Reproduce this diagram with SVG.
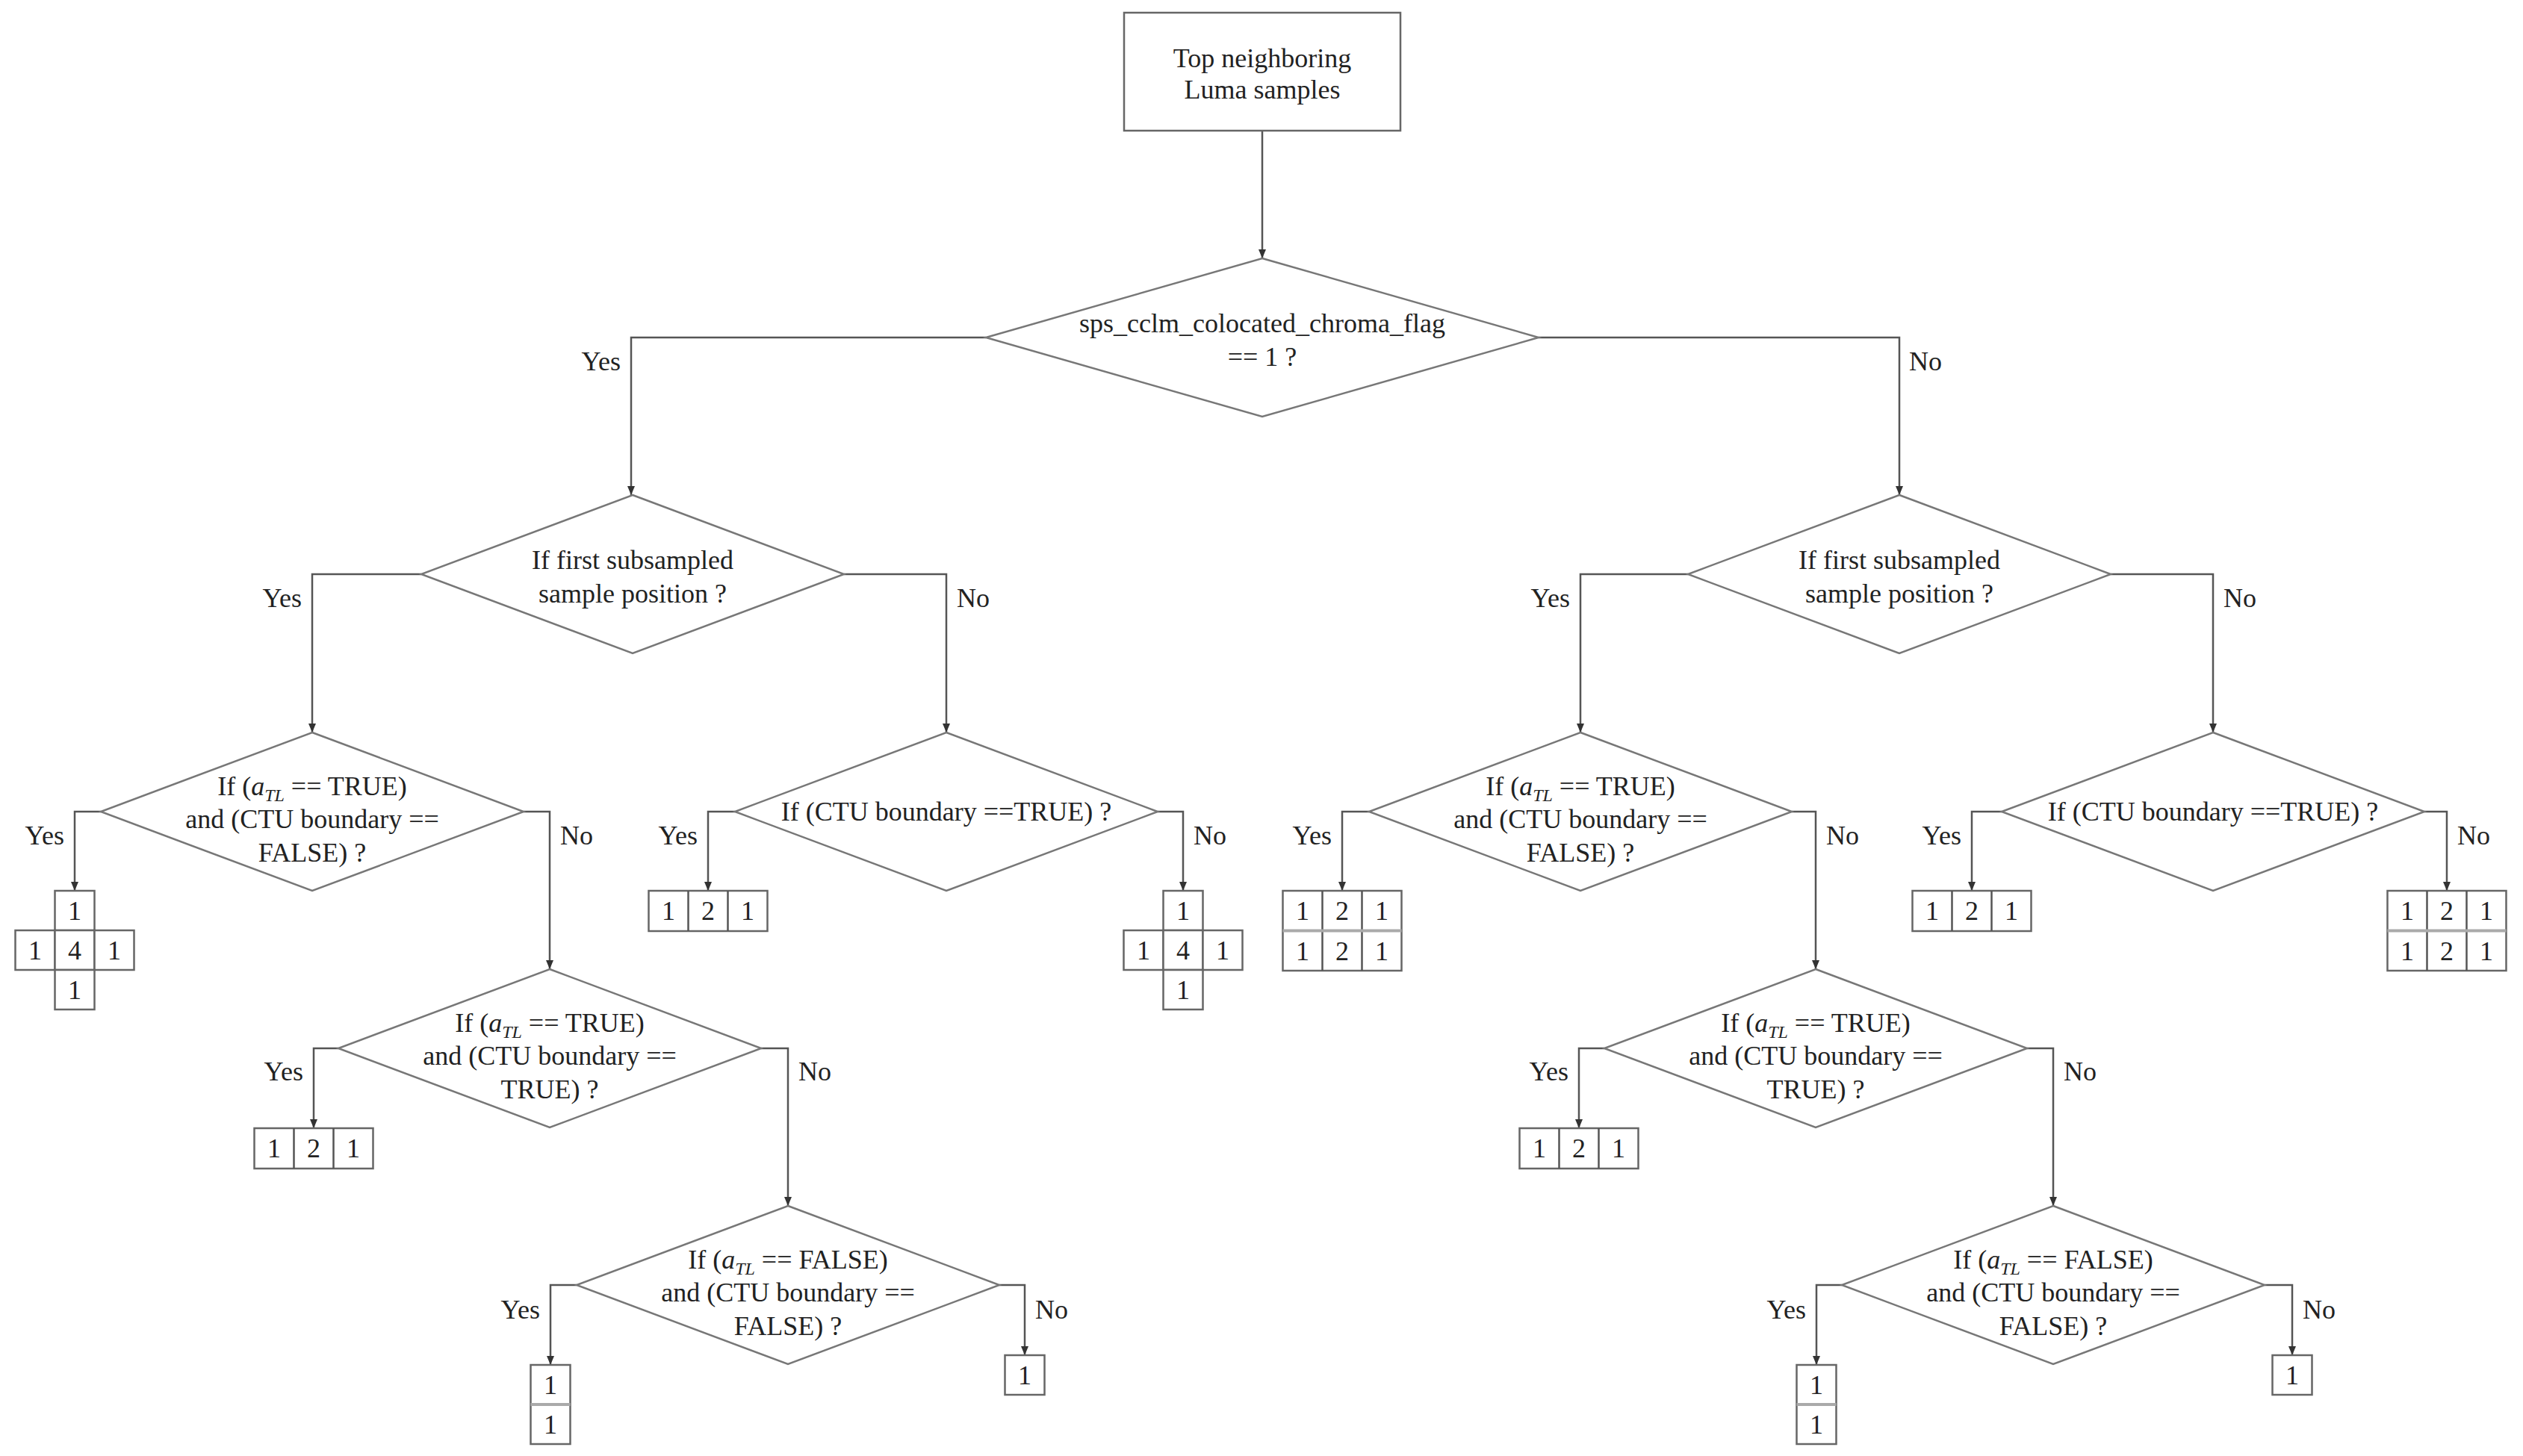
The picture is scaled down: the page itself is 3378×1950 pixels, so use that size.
<svg xmlns="http://www.w3.org/2000/svg" width="3378" height="1950" viewBox="0 0 3378 1950">
<style>
text{font-family:"Liberation Serif","Times New Roman",serif;font-size:36px;fill:#222}
.c{text-anchor:middle}
.y{text-anchor:end}
.n{text-anchor:start}
.d{fill:#fff;stroke:#777;stroke-width:2.5}
.b{fill:#fff;stroke:#666;stroke-width:2.5}
.cl{fill:none;stroke:#555;stroke-width:2.5}
.ml{stroke:#aaa;stroke-width:4}
.i{font-style:italic}
.s{font-style:italic;font-size:24px}
</style>
<defs>
<marker id="ah" viewBox="0 0 12 10" refX="12" refY="5" markerWidth="12" markerHeight="10" markerUnits="userSpaceOnUse" orient="auto">
<path d="M0,0 L12,5 L0,10 Z" fill="#333"/>
</marker>
</defs>
<rect width="3378" height="1950" fill="#fff"/>

<g id="connectors">
<path class="cl" d="M1690,175 V346" marker-end="url(#ah)"/>
<path class="cl" d="M1320,452 H845 V663" marker-end="url(#ah)"/>
<path class="cl" d="M2060,452 H2543 V663" marker-end="url(#ah)"/>
<path class="cl" d="M564,769 H418 V981" marker-end="url(#ah)"/>
<path class="cl" d="M1130,769 H1267 V981" marker-end="url(#ah)"/>
<path class="cl" d="M2260,769 H2116 V981" marker-end="url(#ah)"/>
<path class="cl" d="M2826,769 H2963 V981" marker-end="url(#ah)"/>
<path class="cl" d="M135,1087 H100 V1193" marker-end="url(#ah)"/>
<path class="cl" d="M701,1087 H736 V1298" marker-end="url(#ah)"/>
<path class="cl" d="M984,1087 H948 V1193" marker-end="url(#ah)"/>
<path class="cl" d="M1550,1087 H1584 V1193" marker-end="url(#ah)"/>
<path class="cl" d="M1833,1087 H1797 V1193" marker-end="url(#ah)"/>
<path class="cl" d="M2399,1087 H2431 V1298" marker-end="url(#ah)"/>
<path class="cl" d="M2680,1087 H2640 V1193" marker-end="url(#ah)"/>
<path class="cl" d="M3246,1087 H3276 V1193" marker-end="url(#ah)"/>
<path class="cl" d="M453,1404 H420 V1511" marker-end="url(#ah)"/>
<path class="cl" d="M1019,1404 H1055 V1615" marker-end="url(#ah)"/>
<path class="cl" d="M2148,1404 H2114 V1511" marker-end="url(#ah)"/>
<path class="cl" d="M2714,1404 H2749 V1615" marker-end="url(#ah)"/>
<path class="cl" d="M772,1721 H737 V1828" marker-end="url(#ah)"/>
<path class="cl" d="M1338,1721 H1372 V1815" marker-end="url(#ah)"/>
<path class="cl" d="M2466,1721 H2432 V1828" marker-end="url(#ah)"/>
<path class="cl" d="M3032,1721 H3069 V1815" marker-end="url(#ah)"/>
</g>

<g id="labels">
<text class="y" x="831" y="496">Yes</text>
<text class="n" x="2556" y="496">No</text>
<text class="y" x="404" y="813">Yes</text>
<text class="n" x="1281" y="813">No</text>
<text class="y" x="2102" y="813">Yes</text>
<text class="n" x="2977" y="813">No</text>
<text class="y" x="86" y="1131">Yes</text>
<text class="n" x="750" y="1131">No</text>
<text class="y" x="934" y="1131">Yes</text>
<text class="n" x="1598" y="1131">No</text>
<text class="y" x="1783" y="1131">Yes</text>
<text class="n" x="2445" y="1131">No</text>
<text class="y" x="2626" y="1131">Yes</text>
<text class="n" x="3290" y="1131">No</text>
<text class="y" x="406" y="1447">Yes</text>
<text class="n" x="1069" y="1447">No</text>
<text class="y" x="2100" y="1447">Yes</text>
<text class="n" x="2763" y="1447">No</text>
<text class="y" x="723" y="1766">Yes</text>
<text class="n" x="1386" y="1766">No</text>
<text class="y" x="2418" y="1766">Yes</text>
<text class="n" x="3083" y="1766">No</text>
</g>

<g id="start">
<rect class="b" x="1505" y="17" width="370" height="158"/>
<text class="c" x="1690" y="90">Top neighboring</text>
<text class="c" x="1690" y="132">Luma samples</text>
</g>

<g id="d1">
<polygon class="d" points="1690,346 2060,452 1690,558 1320,452"/>
<text class="c" x="1690" y="445">sps_cclm_colocated_chroma_flag</text>
<text class="c" x="1690" y="490">== 1 ?</text>
</g>

<g id="d2l">
<polygon class="d" points="847,663 1130,769 847,875 564,769"/>
<text class="c" x="847" y="762">If first subsampled</text>
<text class="c" x="847" y="807">sample position ?</text>
</g>
<g id="d2r">
<polygon class="d" points="2543,663 2826,769 2543,875 2260,769"/>
<text class="c" x="2543" y="762">If first subsampled</text>
<text class="c" x="2543" y="807">sample position ?</text>
</g>

<g id="d3l">
<polygon class="d" points="418,981 701,1087 418,1193 135,1087"/>
<text class="c" x="418" y="1065">If (<tspan class="i">a</tspan><tspan class="s" dy="8">TL</tspan><tspan dy="-8"> == TRUE)</tspan></text>
<text class="c" x="418" y="1109">and (CTU boundary ==</text>
<text class="c" x="418" y="1154">FALSE) ?</text>
</g>
<g id="d3l2">
<polygon class="d" points="1267,981 1550,1087 1267,1193 984,1087"/>
<text class="c" x="1267" y="1099">If (CTU boundary ==TRUE) ?</text>
</g>
<g id="d3r">
<polygon class="d" points="2116,981 2399,1087 2116,1193 1833,1087"/>
<text class="c" x="2116" y="1065">If (<tspan class="i">a</tspan><tspan class="s" dy="8">TL</tspan><tspan dy="-8"> == TRUE)</tspan></text>
<text class="c" x="2116" y="1109">and (CTU boundary ==</text>
<text class="c" x="2116" y="1154">FALSE) ?</text>
</g>
<g id="d3r2">
<polygon class="d" points="2963,981 3246,1087 2963,1193 2680,1087"/>
<text class="c" x="2963" y="1099">If (CTU boundary ==TRUE) ?</text>
</g>

<g id="d4l">
<polygon class="d" points="736,1298 1019,1404 736,1510 453,1404"/>
<text class="c" x="736" y="1382">If (<tspan class="i">a</tspan><tspan class="s" dy="8">TL</tspan><tspan dy="-8"> == TRUE)</tspan></text>
<text class="c" x="736" y="1426">and (CTU boundary ==</text>
<text class="c" x="736" y="1471">TRUE) ?</text>
</g>
<g id="d4r">
<polygon class="d" points="2431,1298 2714,1404 2431,1510 2148,1404"/>
<text class="c" x="2431" y="1382">If (<tspan class="i">a</tspan><tspan class="s" dy="8">TL</tspan><tspan dy="-8"> == TRUE)</tspan></text>
<text class="c" x="2431" y="1426">and (CTU boundary ==</text>
<text class="c" x="2431" y="1471">TRUE) ?</text>
</g>

<g id="d5l">
<polygon class="d" points="1055,1615 1338,1721 1055,1827 772,1721"/>
<text class="c" x="1055" y="1699">If (<tspan class="i">a</tspan><tspan class="s" dy="8">TL</tspan><tspan dy="-8"> == FALSE)</tspan></text>
<text class="c" x="1055" y="1743">and (CTU boundary ==</text>
<text class="c" x="1055" y="1788">FALSE) ?</text>
</g>
<g id="d5r">
<polygon class="d" points="2749,1615 3032,1721 2749,1827 2466,1721"/>
<text class="c" x="2749" y="1699">If (<tspan class="i">a</tspan><tspan class="s" dy="8">TL</tspan><tspan dy="-8"> == FALSE)</tspan></text>
<text class="c" x="2749" y="1743">and (CTU boundary ==</text>
<text class="c" x="2749" y="1788">FALSE) ?</text>
</g>

<g id="leaf-cross-l">
<rect class="b" x="73.5" y="1193" width="53" height="53"/>
<rect class="b" x="20.5" y="1246" width="53" height="53"/>
<rect class="b" x="73.5" y="1246" width="53" height="53"/>
<rect class="b" x="126.5" y="1246" width="53" height="53"/>
<rect class="b" x="73.5" y="1299" width="53" height="53"/>
<text class="c" x="100" y="1232">1</text>
<text class="c" x="47" y="1285">1</text>
<text class="c" x="100" y="1285">4</text>
<text class="c" x="153" y="1285">1</text>
<text class="c" x="100" y="1338">1</text>
</g>

<g id="leaf-121-a">
<rect class="b" x="868.5" y="1193" width="159" height="54"/>
<line class="cl" x1="921.5" y1="1193" x2="921.5" y2="1247"/>
<line class="cl" x1="974.5" y1="1193" x2="974.5" y2="1247"/>
<text class="c" x="895" y="1232">1</text>
<text class="c" x="948" y="1232">2</text>
<text class="c" x="1001" y="1232">1</text>
</g>

<g id="leaf-cross-r">
<rect class="b" x="1557.5" y="1193" width="53" height="53"/>
<rect class="b" x="1504.5" y="1246" width="53" height="53"/>
<rect class="b" x="1557.5" y="1246" width="53" height="53"/>
<rect class="b" x="1610.5" y="1246" width="53" height="53"/>
<rect class="b" x="1557.5" y="1299" width="53" height="53"/>
<text class="c" x="1584" y="1232">1</text>
<text class="c" x="1531" y="1285">1</text>
<text class="c" x="1584" y="1285">4</text>
<text class="c" x="1637" y="1285">1</text>
<text class="c" x="1584" y="1338">1</text>
</g>

<g id="leaf-121-b">
<rect class="b" x="340.5" y="1511" width="159" height="54"/>
<line class="cl" x1="393.5" y1="1511" x2="393.5" y2="1565"/>
<line class="cl" x1="446.5" y1="1511" x2="446.5" y2="1565"/>
<text class="c" x="367" y="1550">1</text>
<text class="c" x="420" y="1550">2</text>
<text class="c" x="473" y="1550">1</text>
</g>

<g id="leaf-11-a">
<rect class="b" x="710.5" y="1828" width="53" height="106"/>
<line class="ml" x1="710.5" y1="1881" x2="763.5" y2="1881"/>
<text class="c" x="737" y="1867">1</text>
<text class="c" x="737" y="1920">1</text>
</g>

<g id="leaf-1-a">
<rect class="b" x="1345.5" y="1815" width="53" height="53"/>
<text class="c" x="1372" y="1854">1</text>
</g>

<g id="leaf-2x3-a">
<rect class="b" x="1717.5" y="1193" width="159" height="107"/>
<line class="cl" x1="1770.5" y1="1193" x2="1770.5" y2="1300"/>
<line class="cl" x1="1823.5" y1="1193" x2="1823.5" y2="1300"/>
<line class="ml" x1="1717.5" y1="1246.5" x2="1876.5" y2="1246.5"/>
<text class="c" x="1744" y="1232">1</text>
<text class="c" x="1797" y="1232">2</text>
<text class="c" x="1850" y="1232">1</text>
<text class="c" x="1744" y="1286">1</text>
<text class="c" x="1797" y="1286">2</text>
<text class="c" x="1850" y="1286">1</text>
</g>

<g id="leaf-121-c">
<rect class="b" x="2034.5" y="1511" width="159" height="54"/>
<line class="cl" x1="2087.5" y1="1511" x2="2087.5" y2="1565"/>
<line class="cl" x1="2140.5" y1="1511" x2="2140.5" y2="1565"/>
<text class="c" x="2061" y="1550">1</text>
<text class="c" x="2114" y="1550">2</text>
<text class="c" x="2167" y="1550">1</text>
</g>

<g id="leaf-11-b">
<rect class="b" x="2405.5" y="1828" width="53" height="106"/>
<line class="ml" x1="2405.5" y1="1881" x2="2458.5" y2="1881"/>
<text class="c" x="2432" y="1867">1</text>
<text class="c" x="2432" y="1920">1</text>
</g>

<g id="leaf-1-b">
<rect class="b" x="3042.5" y="1815" width="53" height="53"/>
<text class="c" x="3069" y="1854">1</text>
</g>

<g id="leaf-121-d">
<rect class="b" x="2560.5" y="1193" width="159" height="54"/>
<line class="cl" x1="2613.5" y1="1193" x2="2613.5" y2="1247"/>
<line class="cl" x1="2666.5" y1="1193" x2="2666.5" y2="1247"/>
<text class="c" x="2587" y="1232">1</text>
<text class="c" x="2640" y="1232">2</text>
<text class="c" x="2693" y="1232">1</text>
</g>

<g id="leaf-2x3-b">
<rect class="b" x="3196.5" y="1193" width="159" height="107"/>
<line class="cl" x1="3249.5" y1="1193" x2="3249.5" y2="1300"/>
<line class="cl" x1="3302.5" y1="1193" x2="3302.5" y2="1300"/>
<line class="ml" x1="3196.5" y1="1246.5" x2="3355.5" y2="1246.5"/>
<text class="c" x="3223" y="1232">1</text>
<text class="c" x="3276" y="1232">2</text>
<text class="c" x="3329" y="1232">1</text>
<text class="c" x="3223" y="1286">1</text>
<text class="c" x="3276" y="1286">2</text>
<text class="c" x="3329" y="1286">1</text>
</g>
</svg>
